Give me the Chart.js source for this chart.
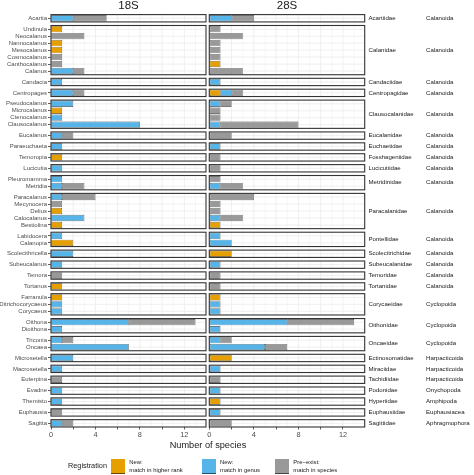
<!DOCTYPE html>
<html><head><meta charset="utf-8">
<script src="https://cdn.jsdelivr.net/npm/chart.js@4"></script>
<style>
html,body{margin:0;padding:0;background:#fff;}
#wrap{position:relative;width:474px;height:475px;overflow:hidden;font-family:"Liberation Sans",Arial,sans-serif;}
canvas{position:absolute;left:0;top:0;}
.t{position:absolute;white-space:nowrap;color:#1A1A1A;}
.key{position:absolute;width:14px;height:14px;top:458.5px;border-bottom:1.6px solid rgba(0,0,0,0.55);box-sizing:content-box;}
.lt{position:absolute;font-size:5.9px;line-height:8.7px;color:#1A1A1A;white-space:pre;top:457.6px;}
</style></head><body>
<div id="wrap">
<canvas id="c18" width="474" height="475"></canvas>
<canvas id="c28" width="474" height="475"></canvas>
<div class="t" style="left:108.5px;width:40px;text-align:center;top:-1.5px;font-size:11.5px;line-height:13px;">18S</div>
<div class="t" style="left:267px;width:40px;text-align:center;top:-1.5px;font-size:11.5px;line-height:13px;">28S</div>
<div class="t" style="left:148px;width:120px;text-align:center;top:439px;font-size:9.2px;line-height:12px;">Number of species</div>
<div class="t" style="left:68px;top:461px;font-size:7.3px;line-height:9px;">Registration</div>
<div id="legend"></div>
</div>
<script>
// ---------- data ----------
const genera = ['Acartia',
 'Undinula','Neocalanus','Nannocalanus','Mesocalanus','Cosmocalanus','Canthocalanus','Calanus',
 'Candacia','Centropages',
 'Pseudocalanus','Microcalanus','Ctenocalanus','Clausocalanus',
 'Eucalanus','Paraeuchaeta','Temoropia','Lucicutia',
 'Pleuromamma','Metridia',
 'Paracalanus','Mecynocera','Delius','Calocalanus','Bestiolina',
 'Labidocera','Calanopia',
 'Scolecithricella','Subeucalanus','Temora','Tortanus',
 'Farranula','Ditrichocorycaeus','Corycaeus',
 'Oithona','Dioithona',
 'Triconia','Oncaea',
 'Microsetella','Macrosetella','Euterpina','Evadne','Themisto','Euphausia','Sagitta'];
const families = ['Acartiidae','Calanidae','Candaciidae','Centropagidae','Clausocalanidae','Eucalanidae','Euchaetidae','Fosshageniidae','Lucicutiidae','Metridinidae','Paracalanidae','Pontellidae','Scolecitrichidae','Subeucalanidae','Temoridae','Tortanidae','Corycaeidae','Oithonidae','Oncaeidae','Ectinosomatidae','Miraciidae','Tachidiidae','Podonidae','Hyperiidae','Euphausiidae','Sagittidae'];
const orders = ['Calanoida','Calanoida','Calanoida','Calanoida','Calanoida','Calanoida','Calanoida','Calanoida','Calanoida','Calanoida','Calanoida','Calanoida','Calanoida','Calanoida','Calanoida','Calanoida','Cyclopoida','Cyclopoida','Cyclopoida','Harpacticoida','Harpacticoida','Harpacticoida','Onychopoda','Amphipoda','Euphausiacea','Aphragmophora'];
const familySizes = [1,7,1,1,4,1,1,1,1,2,5,2,1,1,1,1,3,2,2,1,1,1,1,1,1,1];

const higher18  = [0, 1,0,1,1,0,0,0, 0,0, 0,1,0,0, 0,0,1,0, 0,0, 0,0,1,0,1, 0,2, 0,0,0,1, 1,0,0, 0,0, 0,0, 0,0,0,0,0,0,0];
const genus18   = [2, 0,0,0,0,0,0,2, 1,2, 2,0,1,8, 1,1,0,1, 1,1, 1,0,0,3,0, 1,0, 2,1,0,0, 0,1,1, 7,1, 1,7, 2,1,0,1,1,0,1];
const species18 = [3, 0,3,0,0,1,1,1, 0,1, 0,0,0,0, 1,0,0,0, 0,2, 3,1,0,0,0, 0,0, 0,0,1,0, 0,0,0, 6,0, 1,0, 0,0,1,0,0,1,1];

const higher28  = [0, 0,0,0,0,0,1,0, 0,1, 0,0,0,0, 0,0,0,0, 0,0, 0,0,0,0,1, 0,0, 2,0,0,0, 1,0,0, 0,0, 0,0, 2,0,0,0,1,0,0];
const genus28   = [2, 0,0,0,0,0,0,0, 1,1, 1,0,0,1, 0,1,0,0, 0,1, 0,0,0,1,0, 1,2, 0,1,0,0, 0,1,1, 7,1, 1,5, 0,1,0,1,0,1,0];
const species28 = [2, 1,3,1,1,1,0,3, 0,1, 1,1,1,7, 2,0,1,1, 1,2, 4,1,1,2,0, 0,0, 0,0,1,1, 0,0,0, 6,0, 1,2, 0,0,1,0,0,0,2];

const seriesNames = ['New:\nmatch in higher rank','New:\nmatch in genus','Pre\u2212exist:\nmatch in species'];
const seriesColors = ['#E69F00','#56B4E9','#999999'];
const xTicks = [0,2,4,6,8,10,12];
const xTickLabels = ['0','','4','','8','','12'];

// ---------- facet layout (y positions in row units) ----------
const PAD = 0.05, GAP = 0.51;
const genusPos = [], panels = [];
(function(){
  let t = 0, g = 0;
  familySizes.forEach((n, k) => {
    const top = t, bottom = t + n + PAD;
    for (let i = 0; i < n; i++) genusPos.push(top + PAD/2 + 0.5 + i);
    panels.push({top, bottom, first: g, n, k});
    g += n; t = bottom + GAP;
  });
  window.Y_MAX = t - GAP;
})();

const panelPlugin = {
  id: 'panels',
  beforeDatasetsDraw(chart) {
    const {ctx, chartArea: ca, scales: {x, y}} = chart;
    ctx.save();
    ctx.strokeStyle = '#EBEBEB';
    panels.forEach(p => {
      const y0 = y.getPixelForValue(p.top), y1 = y.getPixelForValue(p.bottom);
      ctx.fillStyle = '#fff';
      ctx.fillRect(ca.left, y0, ca.right - ca.left, y1 - y0);
      for (let v = 0; v <= Math.floor(x.max); v++) {
        const px = x.getPixelForValue(v);
        ctx.lineWidth = v % 2 === 0 ? 0.8 : 0.45;
        ctx.beginPath(); ctx.moveTo(px, y0); ctx.lineTo(px, y1); ctx.stroke();
      }
      ctx.lineWidth = 0.8;
      for (let i = p.first; i < p.first + p.n; i++) {
        const py = y.getPixelForValue(genusPos[i]);
        ctx.beginPath(); ctx.moveTo(ca.left, py); ctx.lineTo(ca.right, py); ctx.stroke();
      }
    });
    ctx.restore();
  },
  afterDatasetsDraw(chart) {
    const {ctx, chartArea: ca, scales: {y}} = chart;
    ctx.save();
    ctx.strokeStyle = '#333333';
    ctx.lineWidth = 1.1;
    panels.forEach(p => {
      const y0 = y.getPixelForValue(p.top), y1 = y.getPixelForValue(p.bottom);
      ctx.strokeRect(ca.left, y0, ca.right - ca.left, y1 - y0);
    });
    ctx.restore();
  }
};

const stripPlugin = {
  id: 'strips',
  afterDraw(chart) {
    const {ctx, scales: {y}} = chart;
    ctx.save();
    ctx.fillStyle = '#1A1A1A';
    ctx.font = '6.1px "Liberation Sans", Arial, sans-serif';
    ctx.textBaseline = 'middle';
    ctx.textAlign = 'left';
    panels.forEach(p => {
      const cy = (y.getPixelForValue(p.top) + y.getPixelForValue(p.bottom)) / 2;
      ctx.fillText(families[p.k], 368.5, cy);
      ctx.fillText(orders[p.k], 426, cy);
    });
    ctx.restore();
  }
};

function makeChart(id, series, left) {
  const datasets = series.map((vals, s) => ({
    label: seriesNames[s],
    data: vals.map((v, i) => ({x: v, y: genusPos[i]})),
    backgroundColor: seriesColors[s],
    borderColor: 'rgba(30,30,30,0.85)',
    borderWidth: 0.6,
    borderSkipped: false,
    categoryPercentage: 1,
    barPercentage: 0.9
  }));
  const tickFont = {family: '"Liberation Sans", Arial, sans-serif', size: 7.3};
  return new Chart(document.getElementById(id), {
    type: 'bar',
    data: {datasets},
    options: {
      indexAxis: 'y',
      responsive: false,
      animation: false,
      events: [],
      layout: {padding: left ? {left: 0, right: 268, top: 14.6, bottom: 28}
                              : {left: 209.3, right: 109.3, top: 14.6, bottom: 28}},
      plugins: {legend: {display: false}, tooltip: {enabled: false}},
      scales: {
        x: {
          type: 'linear', min: 0, max: 13.95, stacked: true, offset: false,
          afterBuildTicks: a => { a.ticks = xTicks.map(v => ({value: v})); },
          afterFit: a => { a.height = 20; },
          grid: {drawOnChartArea: false, drawTicks: true, tickLength: 2.5, color: '#333', lineWidth: 0.8, offset: false},
          border: {display: false},
          ticks: {autoSkip: false, maxRotation: 0, padding: 1.2, color: '#4D4D4D', font: tickFont,
                  callback: (v, i) => xTickLabels[i]}
        },
        y: {
          type: 'linear', min: 0, max: Y_MAX, reverse: true, stacked: true, display: left, offset: false,
          afterBuildTicks: a => { a.ticks = genusPos.map(v => ({value: v})); },
          afterFit: a => { a.width = left ? 51 : 0; },
          grid: {drawOnChartArea: false, drawTicks: true, tickLength: 3, color: '#333', lineWidth: 0.8, offset: false},
          border: {display: false},
          ticks: {autoSkip: false, padding: 1, color: '#4D4D4D',
                  font: {family: '"Liberation Sans", Arial, sans-serif', size: 6},
                  callback: (v, i) => genera[i]}
        }
      }
    },
    plugins: left ? [panelPlugin] : [panelPlugin, stripPlugin]
  });
}

makeChart('c18', [higher18, genus18, species18], true);
makeChart('c28', [higher28, genus28, species28], false);

// ---------- legend ----------
const legendPos = [[110.5, 129.3], [201.7, 220], [275.3, 293.3]];
const lg = document.getElementById('legend');
seriesNames.forEach((name, s) => {
  const k = document.createElement('div');
  k.className = 'key';
  k.style.left = legendPos[s][0] + 'px';
  k.style.background = seriesColors[s];
  lg.appendChild(k);
  const t = document.createElement('div');
  t.className = 'lt';
  t.style.left = legendPos[s][1] + 'px';
  t.textContent = name;
  lg.appendChild(t);
});
</script>
</body></html>
